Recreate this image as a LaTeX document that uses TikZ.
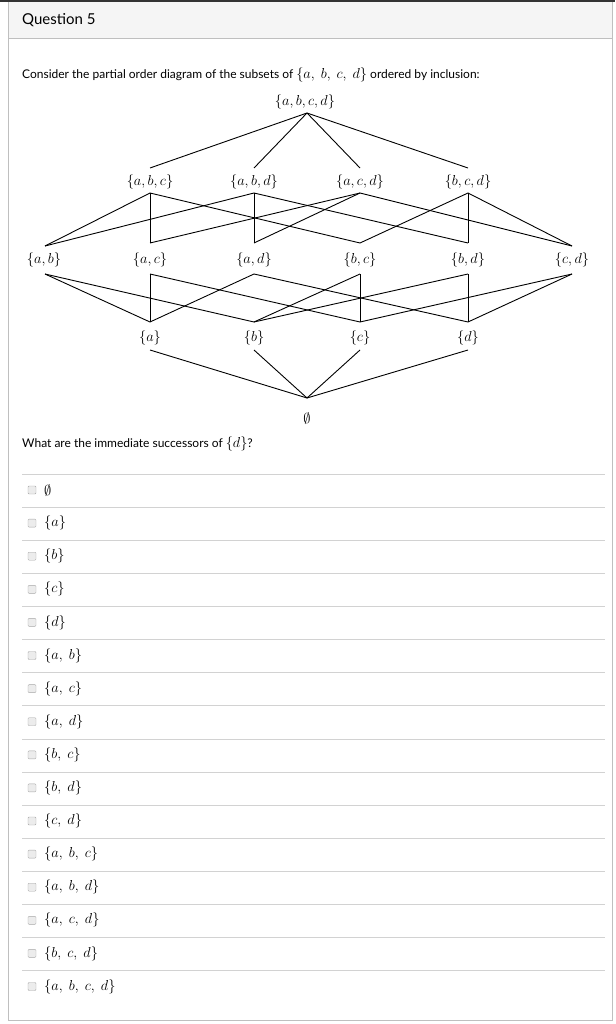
\documentclass[tikz,border=0pt]{standalone}
\usepackage{fontspec}
\setmainfont{Lato}
\begin{document}
\begin{tikzpicture}[x=1pt,y=-1pt,
  edge/.style={line width=0.9pt},
  lbl/.style={inner sep=0pt,font=\fontsize{14.5}{16}\selectfont},
  txt/.style={inner sep=0pt,anchor=west,font=\fontsize{12}{14}\selectfont},
  sep/.style={draw=gray!35,line width=0.6pt},
  cbox/.style={draw=gray!70,fill=gray!15,rounded corners=1pt,minimum size=8pt,inner sep=0pt}]
\useasboundingbox (0,0) rectangle (615,1024);
% frame
\fill[gray!8] (8,2) rectangle (612,38);
\draw[gray!50,line width=0.8pt] (8,38) -- (612,38);
\fill[black!80] (0,0) rectangle (615,2);
\draw[gray!50,line width=1pt] (8,2) -- (8,1020) -- (612,1020) -- (612,2);
\node[txt,font=\fontsize{15}{17}\selectfont] (q) at (22,20) {Question 5};
\node[txt] (intro) at (22,75) {Consider the partial order diagram of the subsets of {\fontsize{14}{16}\selectfont$\{a,\ b,\ c,\ d\}$} ordered by inclusion:};
% labels
\node[lbl] (abcd) at (305,102) {$\{a,b,c,d\}$};
\node[lbl] (abc) at (150,182) {$\{a,b,c\}$};
\node[lbl] (abd) at (254,182) {$\{a,b,d\}$};
\node[lbl] (acd) at (360,182) {$\{a,c,d\}$};
\node[lbl] (bcd) at (468,182) {$\{b,c,d\}$};
\node[lbl] (ab) at (44,260) {$\{a,b\}$};
\node[lbl] (ac) at (150,260) {$\{a,c\}$};
\node[lbl] (ad) at (254,260) {$\{a,d\}$};
\node[lbl] (bc) at (360,260) {$\{b,c\}$};
\node[lbl] (bd) at (468,260) {$\{b,d\}$};
\node[lbl] (cd) at (572,260) {$\{c,d\}$};
\node[lbl] (a) at (150,338) {$\{a\}$};
\node[lbl] (b) at (254,338) {$\{b\}$};
\node[lbl] (c) at (360,338) {$\{c\}$};
\node[lbl] (d) at (468,338) {$\{d\}$};
\node[lbl] (e) at (307,418) {$\emptyset$};
% anchor points
\coordinate (abcd-b) at (307,113);
\foreach \n/\x in {abc/150,abd/254,acd/360,bcd/468}{
  \coordinate (\n-t) at (\x,168); \coordinate (\n-b) at (\x,193);}
\foreach \n/\x in {ac/150,ad/254,bc/360,bd/468}{
  \coordinate (\n-t) at (\x,243); \coordinate (\n-b) at (\x,274);}
\coordinate (ab-t) at (45,246); \coordinate (ab-b) at (45,274);
\coordinate (cd-t) at (572,246); \coordinate (cd-b) at (572,274);
\foreach \n/\x in {a/150,b/254,c/360,d/468}{
  \coordinate (\n-t) at (\x,322); \coordinate (\n-b) at (\x,350);}
\coordinate (e-t) at (307,398);
% edges
\foreach \n in {abc,abd,acd,bcd} \draw[edge] (abcd-b) -- (\n-t);
\foreach \u/\v in {abc/ab,abc/ac,abc/bc,abd/ab,abd/ad,abd/bd,acd/ac,acd/ad,acd/cd,bcd/bc,bcd/bd,bcd/cd}
  \draw[edge] (\u-b) -- (\v-t);
\foreach \u/\v in {ab/a,ab/b,ac/a,ac/c,ad/a,ad/d,bc/b,bc/c,bd/b,bd/d,cd/c,cd/d}
  \draw[edge] (\u-b) -- (\v-t);
\foreach \n in {a,b,c,d} \draw[edge] (\n-b) -- (e-t);
% question
\node[txt] (qq) at (22,444) {What are the immediate successors of {\fontsize{14}{16}\selectfont$\{d\}$}?};
\foreach \i in {0,...,15} \draw[sep] (22,{474+33.1*\i}) -- (605,{474+33.1*\i});
\foreach \i/\t in {0/{$\emptyset$},1/{$\{a\}$},2/{$\{b\}$},3/{$\{c\}$},4/{$\{d\}$},5/{$\{a,\ b\}$},6/{$\{a,\ c\}$},7/{$\{a,\ d\}$},8/{$\{b,\ c\}$},9/{$\{b,\ d\}$},10/{$\{c,\ d\}$},11/{$\{a,\ b,\ c\}$},12/{$\{a,\ b,\ d\}$},13/{$\{a,\ c,\ d\}$},14/{$\{b,\ c,\ d\}$},15/{$\{a,\ b,\ c,\ d\}$}}{
  \node[cbox] (cb\i) at (32,{490+33.1*\i}) {};
  \node[txt,font=\fontsize{14.5}{16}\selectfont] (opt\i) at (44,{490+33.1*\i}) {\t};}
\end{tikzpicture}
\end{document}
